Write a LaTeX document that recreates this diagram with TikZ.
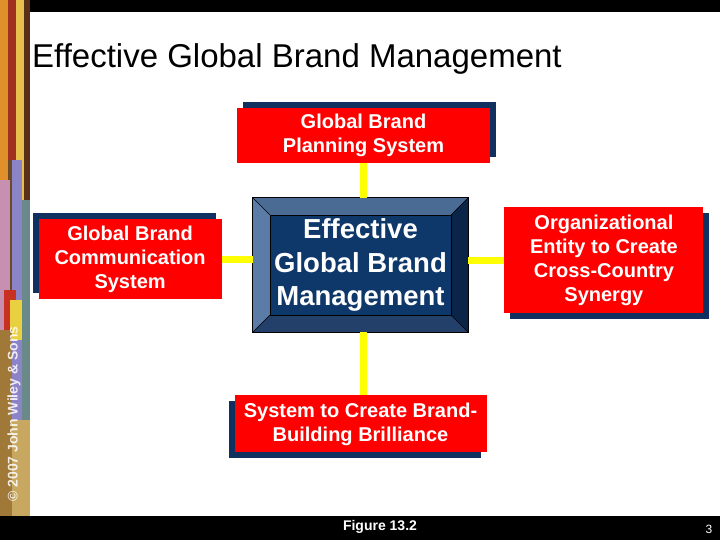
\documentclass[tikz,border=0pt]{standalone}
\usepackage{fontspec}
\setmainfont{Liberation Sans}
\usetikzlibrary{positioning,calc,shadows}
\definecolor{navy}{HTML}{10305F}
\definecolor{signal}{HTML}{FF0000}
\definecolor{beam}{HTML}{FFFF00}
\definecolor{face}{HTML}{0F386A}
\definecolor{bevlight}{HTML}{5B7CA6}
\definecolor{bevtop}{HTML}{4A6B94}
\definecolor{bevdark}{HTML}{0B2548}
\definecolor{bevlow}{HTML}{22406A}

\begin{document}
\begin{tikzpicture}[x=1pt,y=-1pt,
   panel/.style={fill=signal,text=white,align=center,inner sep=0pt,
     font=\fontsize{20}{24}\selectfont\bfseries},
   shadowur/.style={panel,drop shadow={fill=navy,opacity=1,shadow xshift=6pt,shadow yshift=6pt}},
   shadowul/.style={panel,drop shadow={fill=navy,opacity=1,shadow xshift=-6pt,shadow yshift=6pt}},
   shadowdr/.style={panel,drop shadow={fill=navy,opacity=1,shadow xshift=6pt,shadow yshift=-6pt}},
   shadowdl/.style={panel,drop shadow={fill=navy,opacity=1,shadow xshift=-6pt,shadow yshift=-6pt}},
   corebox/.style={fill=face,text=white,align=center,inner sep=0pt,
     minimum width=215pt,minimum height=134pt,
     font=\fontsize{27.5}{33.5}\selectfont\bfseries},
   link/.style={draw=beam,line width=7pt},
   band/.style={text=white,inner sep=0pt}]
 \useasboundingbox (0,0) rectangle (720,540);
 \fill[white] (0,0) rectangle (720,540);
 % painted strip on the left
 \fill[fill={rgb,255:red,107;green,74;blue,42}] (0,0) rectangle (30,516);
 \fill[fill={rgb,255:red,224;green,144;blue,42}] (0,0) rectangle (8,180);
 \fill[fill={rgb,255:red,160;green,48;blue,32}] (8,0) rectangle (16,160);
 \fill[fill={rgb,255:red,232;green,192;blue,80}] (16,0) rectangle (24,200);
 \fill[fill={rgb,255:red,90;green,48;blue,24}] (24,0) rectangle (30,300);
 \fill[fill={rgb,255:red,200;green,144;blue,176}] (0,180) rectangle (10,330);
 \fill[fill={rgb,255:red,140;green,132;blue,200}] (12,160) rectangle (22,420);
 \fill[fill={rgb,255:red,106;green,138;blue,138}] (22,200) rectangle (30,420);
 \fill[fill={rgb,255:red,200;green,48;blue,32}] (4,290) rectangle (16,330);
 \fill[fill={rgb,255:red,232;green,208;blue,64}] (10,300) rectangle (22,340);
 \fill[fill={rgb,255:red,160;green,120;blue,56}] (0,330) rectangle (12,516);
 \fill[fill={rgb,255:red,200;green,168;blue,96}] (12,420) rectangle (30,516);
 \node[rotate=90,text=white,opacity=0.85,font=\fontsize{14}{16}\selectfont\bfseries] (copy) at (14,414) {© 2007 John Wiley \& Sons};
 % bars
 \fill[black] (30,0) rectangle (720,12);
 \fill[black] (0,516) rectangle (720,540);
 \node[band,font=\fontsize{14}{16}\selectfont\bfseries] (fig) at (380,527) {Figure 13.2};
 \node[band,font=\fontsize{12}{14}\selectfont] (page) at (709,529) {3};
 \node[anchor=west,inner sep=0pt,font=\fontsize{33}{38}\selectfont] (title) at (32,59) {Effective Global Brand Management};
 % centre and panels
 \node[corebox] (core) at (360.5,265) {Effective\\Global Brand\\Management};
 \node[shadowur,minimum width=253pt,minimum height=55pt,above=35pt of core,xshift=3pt] (plan) {Global Brand\\Planning System};
 \node[shadowul,minimum width=183pt,minimum height=79pt,left=31pt of core,yshift=6pt] (comm) {Global Brand\\Communication\\System};
 \node[shadowdr,minimum width=199pt,minimum height=105pt,right=36pt of core,yshift=5pt] (org) {Organizational\\Entity to Create\\Cross-Country\\Synergy};
 \node[shadowdl,minimum width=252pt,minimum height=57pt,below=63pt of core] (build) {System to Create Brand-\\Building Brilliance};
 % bevels
 \fill[bevtop] (core.north west) -- (core.north east) -- ($(core.north east)+(-17,17)$) -- ($(core.north west)+(17,17)$) -- cycle;
 \fill[bevlight] (core.north west) -- ($(core.north west)+(17,17)$) -- ($(core.south west)+(17,-17)$) -- (core.south west) -- cycle;
 \fill[bevdark] (core.north east) -- ($(core.north east)+(-17,17)$) -- ($(core.south east)+(-17,-17)$) -- (core.south east) -- cycle;
 \fill[bevlow] (core.south west) -- ($(core.south west)+(17,-17)$) -- ($(core.south east)+(-17,-17)$) -- (core.south east) -- cycle;
 \draw[black,line width=0.4pt] ($(core.north west)+(17,17)$) rectangle ($(core.south east)+(-17,-17)$);
 \draw[black,line width=0.4pt] (core.north west) -- ++(17,17) (core.north east) -- ++(-17,17)
   (core.south west) -- ++(17,-17) (core.south east) -- ++(-17,-17);
 \draw[black,line width=1pt] (core.north west) rectangle (core.south east);
 % connectors
 \draw[link] (plan.south) -- (plan.south |- core.north);
 \draw[link] (comm.east) -- (comm.east -| core.west);
 \draw[link] (org.west) -- (org.west -| core.east);
 \draw[link] (core.south -| plan.south) -- (build.north -| plan.south);
\end{tikzpicture}
\end{document}
